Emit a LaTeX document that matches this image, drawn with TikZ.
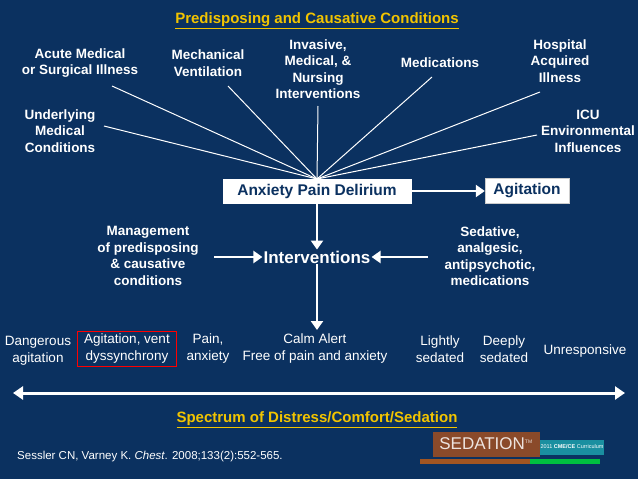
\documentclass[tikz,border=0pt]{standalone}
\usepackage{fontspec}
\setmainfont{Liberation Sans}
\usetikzlibrary{arrows.meta}
\definecolor{bg}{HTML}{0B3160}
\definecolor{ttl}{HTML}{F2C400}
\definecolor{brn}{HTML}{8A4A2A}
\definecolor{tea}{HTML}{1A8FA0}
\tikzset{
 lbl/.style={text=white,font=\bfseries\fontsize{13.5}{16.5}\selectfont,align=center,inner sep=1pt},
 sp/.style={text=white,font=\fontsize{13.5}{17}\selectfont,align=center,inner sep=1pt},
 ttlst/.style={text=ttl,font=\bfseries\fontsize{15}{17}\selectfont},
 boxw/.style={fill=white,text=bg,font=\bfseries\fontsize{15.5}{17}\selectfont,inner sep=3pt},
 ray/.style={white,line width=1pt},
 arr/.style={white,line width=2.8pt,-{Triangle[length=9pt,width=12pt]}}
}
\begin{document}
\begin{tikzpicture}[x=1pt,y=-1pt]
\fill[bg] (0,0) rectangle (638,479);
\useasboundingbox (0,0) rectangle (638,479);
\node[ttlst] (t1) at (317,21) {\underline{Predisposing and Causative Conditions}};
\node[lbl] (a) at (80,63) {Acute Medical\\or Surgical Illness};
\node[lbl] (b) at (208,63) {Mechanical\\Ventilation};
\node[lbl] (c) at (318,69) {Invasive,\\Medical, \&\\Nursing\\Interventions};
\node[lbl] (d) at (440,63) {Medications};
\node[lbl] (e) at (560,61) {Hospital\\Acquired\\Illness};
\node[lbl] (f) at (60,131) {Underlying\\Medical\\Conditions};
\node[lbl] (g) at (588,131) {ICU\\Environmental\\Influences};
\node[boxw,minimum width=189pt,minimum height=25pt] (apd) at (317,191) {Anxiety Pain Delirium};
\node[boxw,minimum width=84pt,minimum height=25pt,draw=gray!40] (ag) at (527,191) {Agitation};
\coordinate (hub) at (317,179);
\foreach \p in {(112,86),(228,86),(318,106),(432,77),(540,92),(104,126),(537,135)}
  \draw[ray] (hub) -- \p;
\node[lbl] (m) at (148,256) {Management\\of predisposing\\\& causative\\conditions};
\node[lbl,font=\bfseries\fontsize{17}{19}\selectfont] (iv) at (317,257) {Interventions};
\node[lbl] (s) at (490,256) {Sedative,\\analgesic,\\antipsychotic,\\medications};
\draw[arr] (apd) -- (ag);
\draw[arr] (apd) -- (iv);
\draw[arr] (214,257) -- (iv);
\draw[arr] (428,257) -- (iv);
\coordinate (dn) at (317,330);
\draw[arr] (iv) -- (dn);
\node[sp] (p1) at (38,351) {Dangerous\\agitation};
\node[sp,draw=red,line width=1.2pt,inner sep=3pt,minimum width=99pt] (p2) at (127,349) {Agitation, vent\\dyssynchrony};
\node[sp] (p3) at (208,349) {Pain,\\anxiety};
\node[sp] (p4) at (315,349) {Calm Alert\\Free of pain and anxiety};
\node[sp] (p5) at (440,349) {Lightly\\sedated};
\node[sp] (p6) at (504,349) {Deeply\\sedated};
\node[sp] (p7) at (585,351) {Unresponsive};
\coordinate (l) at (13,393); \coordinate (r) at (625,393);
\draw[white,line width=3pt,{Triangle[length=10pt,width=13pt]}-{Triangle[length=10pt,width=13pt]}] (l) -- (r);
\node[ttlst] (t2) at (317,420) {\underline{Spectrum of Distress/Comfort/Sedation}};
\node[sp,anchor=west,font=\fontsize{11.5}{13}\selectfont] (cit) at (16,457) {Sessler CN, Varney K. \textit{Chest}. 2008;133(2):552-565.};
\fill[brn] (433,432) rectangle (540,457);
\node[text=white!85!brn,font=\fontsize{17}{17}\selectfont] (lg) at (486,444) {SEDATION\textsuperscript{\tiny TM}};
\fill[tea] (540,440) rectangle (604,455);
\node[text=white,font=\fontsize{5.5}{6}\selectfont] (lg2) at (572,447) {2011 \textbf{CME/CE} Curriculum};
\fill[brn!80!orange] (420,459) rectangle (530,464);
\fill[green!50!teal] (530,459) rectangle (600,464);
\end{tikzpicture}
\end{document}
